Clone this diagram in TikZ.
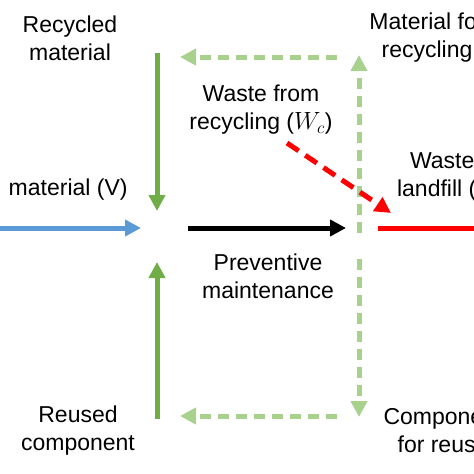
\documentclass[tikz,border=0pt]{standalone}
\usepackage{fontspec}
\setmainfont{Liberation Sans}
\usepackage{tikz}
\usetikzlibrary{arrows.meta}
\definecolor{FlowBlue}{HTML}{5B9BD5}
\definecolor{FlowGreen}{HTML}{70AD47}
\definecolor{LoopGreen}{HTML}{A9D18E}
\definecolor{FlowRed}{HTML}{FF0000}
\tikzset{
  flowtext/.style={align=center, inner sep=0pt, font=\fontsize{23}{28}\selectfont},
  flow/.style={line width=5pt, -{Triangle[length=16pt, width=16pt]}},
  loopflow/.style={flow, LoopGreen, dash pattern=on 11pt off 7pt},
}

\begin{document}
\begin{tikzpicture}[x=1pt, y=-1pt, thick]
        \useasboundingbox (0,0) rectangle (474,474);
        \clip (0,0) rectangle (474,474);

        % Labels
        \node[flowtext, anchor=east] (virgin) at (128,190) {material (V)};
        \node[flowtext] (recycled) at (70,38) {Recycled\\material};
        \node[flowtext] (reused) at (78,431) {Reused\\component};
        \node[flowtext] (prevent) at (268,276) {Preventive\\maintenance};
        \node[flowtext] (wastec) at (261,110) {Waste from\\recycling ($W_c$)};
        \node[flowtext] (forrecycling) at (427,38) {Material for\\recycling};
        \node[flowtext] (landfill) at (455,177) {Waste to\\landfill ($W_l$)};
        \node[flowtext] (forreuse) at (443,431) {Component\\for reuse};

        % Flow ends
        \coordinate (v0) at (-20,228);   \coordinate (v1) at (141,228);
        \coordinate (m0) at (188,228);   \coordinate (m1) at (346,228);
        \coordinate (l0) at (378,228);   \coordinate (l1) at (490,228);
        \coordinate (rc0) at (157,53);   \coordinate (rc1) at (157,211);
        \coordinate (ru0) at (157,419);  \coordinate (ru1) at (157,262);
        \coordinate (up0) at (359,233);  \coordinate (up1) at (359,55);
        \coordinate (dn0) at (359,259);  \coordinate (dn1) at (359,417);
        \coordinate (top0) at (337,57);  \coordinate (top1) at (180,57);
        \coordinate (bot0) at (337,416); \coordinate (bot1) at (180,416);
        \coordinate (wc0) at (287,143);  \coordinate (wc1) at (391,213);

        % Main line
        \draw[flow, FlowBlue] (v0) -- (v1);
        \draw[flow, black] (m0) -- (m1);
        \draw[line width=5pt, FlowRed] (l0) -- (l1);

        % Recycled and reused inputs
        \draw[flow, FlowGreen] (rc0) -- (rc1);
        \draw[flow, FlowGreen] (ru0) -- (ru1);

        % Loops back
        \draw[loopflow] (up0) -- (up1);
        \draw[loopflow] (top0) -- (top1);
        \draw[loopflow] (dn0) -- (dn1);
        \draw[loopflow] (bot0) -- (bot1);

        % Waste from recycling
        \draw[flow, FlowRed, dash pattern=on 14pt off 8pt] (wc0) -- (wc1);
    \end{tikzpicture}
\end{document}
